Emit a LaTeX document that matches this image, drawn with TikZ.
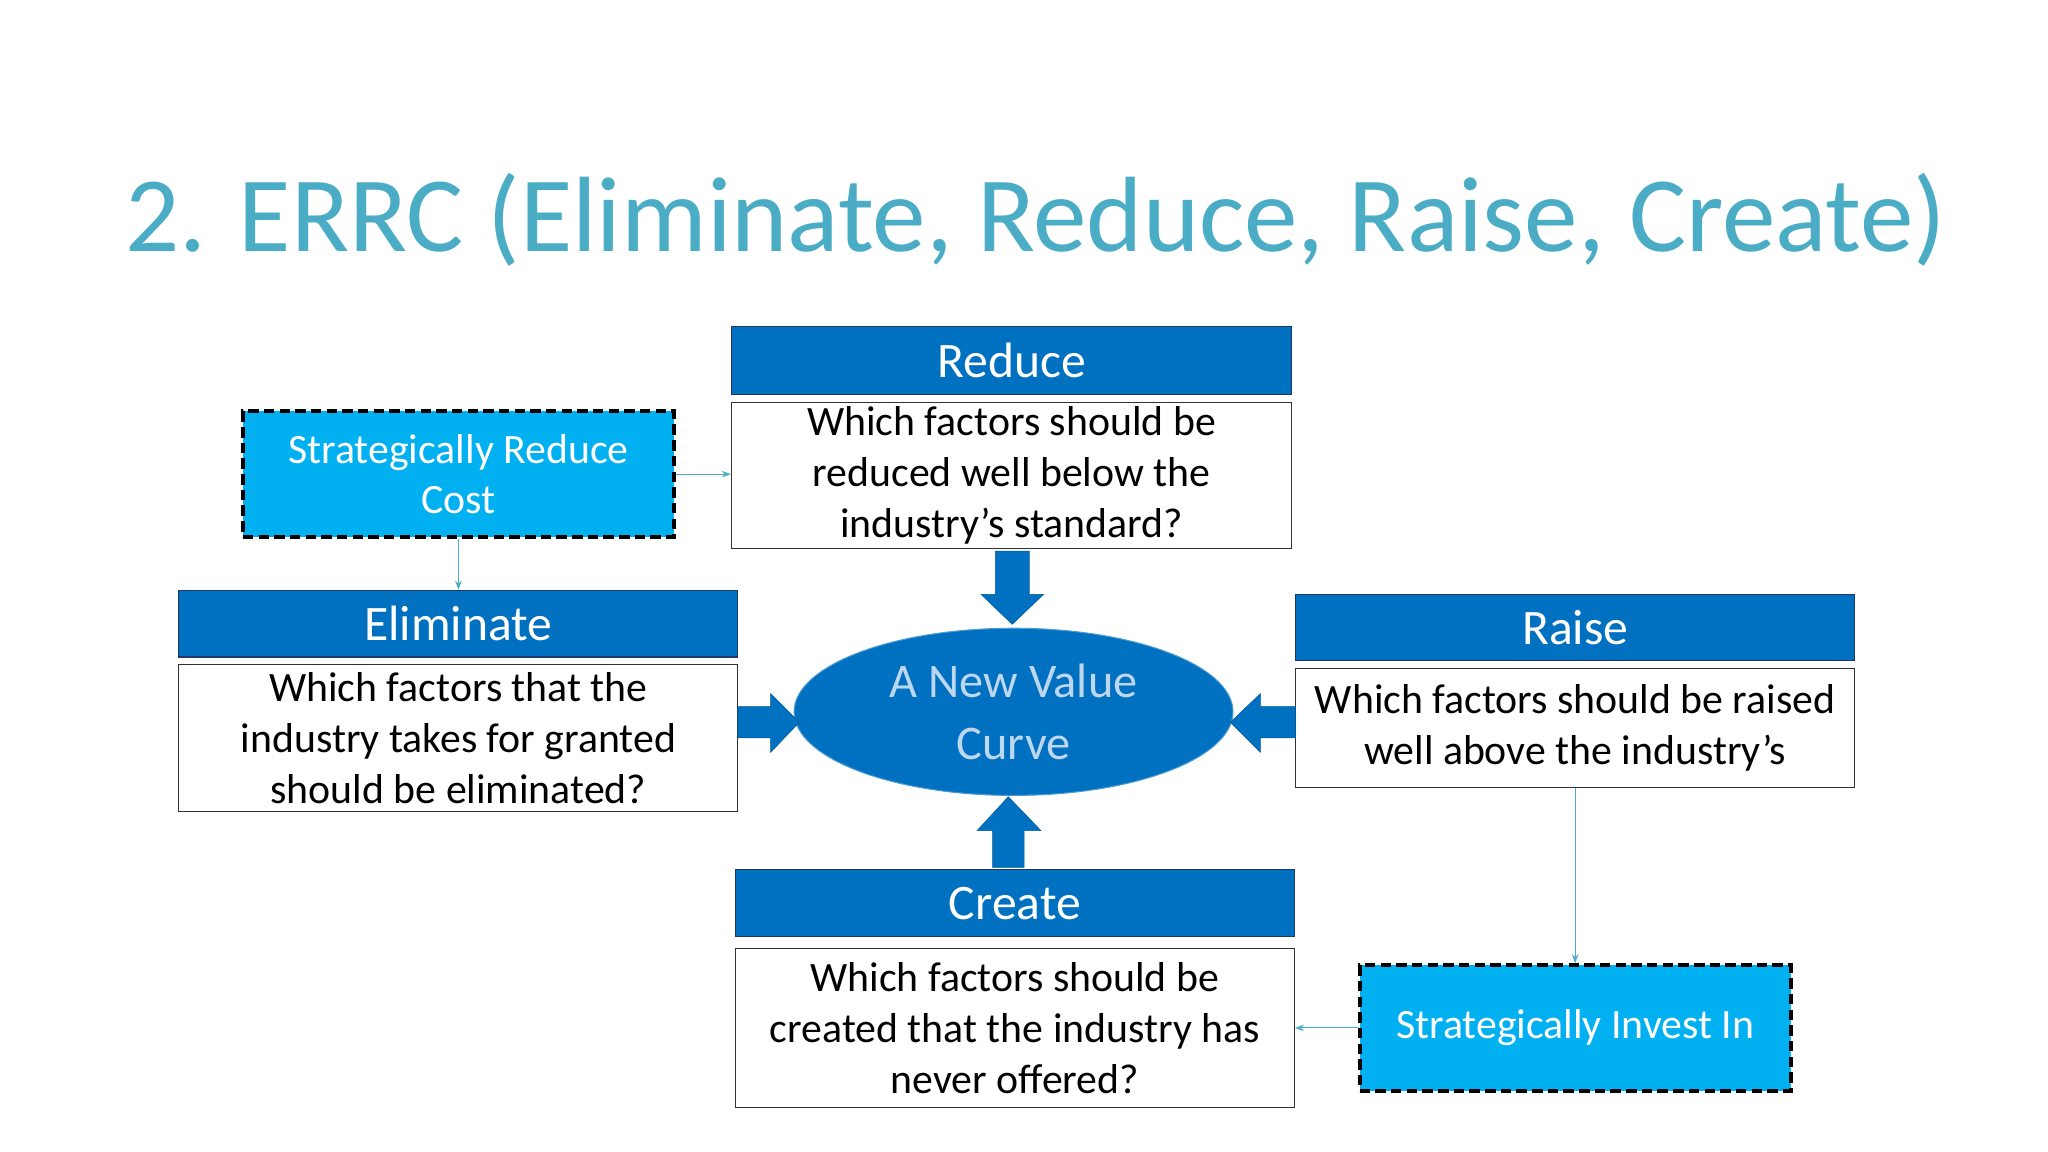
\documentclass[tikz,border=0pt]{standalone}
\usepackage{fontspec}
\setmainfont{Carlito}
\usetikzlibrary{arrows.meta, shapes.geometric}
\definecolor{titleteal}{HTML}{4BACC6}
\definecolor{hdrblue}{HTML}{0070C0}
\definecolor{hdrline}{HTML}{1F3864}
\definecolor{brightcyan}{HTML}{00B0F0}
\definecolor{curvetext}{HTML}{BDD7EE}
\tikzset{
  header/.style={draw=hdrline, fill=hdrblue, thick, text=white, font=\fontsize{38}{44}\selectfont, inner sep=0pt},
  question/.style={draw=black!80, thick, fill=white, align=center, font=\fontsize{32}{39}\selectfont, inner sep=0pt},
  strategy/.style={draw=black, fill=brightcyan, line width=3pt, dash pattern=on 8pt off 4pt, text=white, align=center, font=\fontsize{32}{39}\selectfont, inner sep=0pt},
  blockarrow/.style={fill=hdrblue, draw=hdrblue!80!black},
  link/.style={-{Stealth[length=7pt,width=5pt]}, titleteal, thick}
}
\begin{document}
\begin{tikzpicture}[x=1pt, y=-1pt]
  \useasboundingbox[fill=white] (0,0) rectangle (1568,882);
  % title
  \node[text=titleteal, font=\fontsize{82}{90}\selectfont] (title) at (793,168) {2. ERRC (Eliminate, Reduce, Raise, Create)};

  % Reduce
  \node[header, minimum width=429pt, minimum height=52pt] (reduce) at (774.5,276) {Reduce};
  \node[question, minimum width=429pt, minimum height=112pt] (reduceq) at (774.5,364) {Which factors should be\\reduced well below the\\industry’s standard?};
  % Eliminate
  \node[header, minimum width=428pt, minimum height=51pt] (elim) at (351,477.5) {Eliminate};
  \node[question, minimum width=428pt, minimum height=112pt] (elimq) at (351,565) {Which factors that the\\industry takes for granted\\should be eliminated?};
  % Raise
  \node[header, minimum width=428pt, minimum height=51pt] (raise) at (1206,480.5) {Raise};
  \node[question, minimum width=428pt, minimum height=91pt] (raiseq) at (1206,557.5) {Which factors should be raised\\well above the industry’s};
  % Create
  \node[header, minimum width=428pt, minimum height=51pt] (create) at (777,691.5) {Create};
  \node[question, minimum width=428pt, minimum height=122pt] (createq) at (777,787) {Which factors should be\\created that the industry has\\never offered?};

  % value curve
  \node[ellipse, fill=hdrblue, draw=hdrblue!70!white, thick, minimum width=336pt, minimum height=128pt, text=curvetext, align=center, font=\fontsize{37}{47}\selectfont] (curve) at (776,545) {A New Value\\Curve};

  % strategies
  \node[strategy, minimum width=330pt, minimum height=96pt] (sreduce) at (351,363) {Strategically Reduce\\Cost};
  \node[strategy, minimum width=330pt, minimum height=96pt] (sinvest) at (1206,787) {Strategically Invest In};

  % block arrows into the curve
  \draw[blockarrow] (762,422) -- (788,422) -- (788,455) -- (799,455) -- (775,478) -- (751,455) -- (762,455) -- cycle;
  \draw[blockarrow] (565,541) -- (590,541) -- (590,531) -- (612,553) -- (590,576) -- (590,565) -- (565,565) -- cycle;
  \draw[blockarrow] (992,541) -- (965,541) -- (965,531) -- (942,553) -- (965,576) -- (965,565) -- (992,565) -- cycle;
  \draw[blockarrow] (760,664) -- (784,664) -- (784,636) -- (797,636) -- (772,610) -- (748,636) -- (760,636) -- cycle;

  % thin links
  \draw[link] (sreduce.east) -- (sreduce.east -| reduceq.west);
  \draw[link] (sreduce.south) -- (elim.north);
  \draw[link] (raiseq.south) -- (sinvest.north);
  \draw[link] (sinvest.west) -- (createq.east |- sinvest.west);
\end{tikzpicture}
\end{document}
